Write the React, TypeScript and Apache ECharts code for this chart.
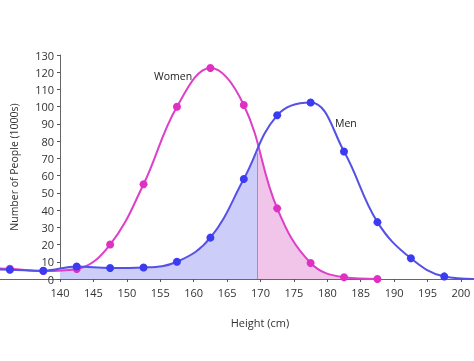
import React, { useEffect, useRef } from "react";
import * as echarts from "echarts";

const heights = [127.5, 132.5, 137.5, 142.5, 147.5, 152.5, 157.5, 162.5, 167.5, 172.5, 177.5, 182.5, 187.5, 192.5, 197.5, 202.5];
const menValues = [5.6, 5.4, 4.8, 7.3, 6.4, 6.7, 10, 24, 58, 95, 102.4, 74, 33, 12, 1.5, 0];
const womenValues = [6.2, 5.9, 4.6, 5.8, 20, 55, 100, 122.5, 101, 41, 9.3, 1, 0, null, null, null];
const xTicks = [140, 145, 150, 155, 160, 165, 170, 175, 180, 185, 190, 195, 200];
const crossHeight = 169.55;
const crossValue = 73;

const MAGENTA = "#dd3fc9";
const MAGENTA_DOT = "#e030c4";
const BLUE = "#5550e6";
const BLUE_DOT = "#3b3bf2";
const FONT = "'Open Sans', 'DejaVu Sans', sans-serif";

export default function App() {
  const ref = useRef<HTMLDivElement>(null);
  useEffect(() => {
    document.body.style.margin = "0";
    const chart = echarts.init(ref.current!, null, { renderer: "svg" });
    const men = heights.map((h, i) => [h, menValues[i]]);
    const women = heights.map((h, i) => [h, womenValues[i]]).filter((d) => d[1] !== null);
    chart.setOption({
      animation: false,
      grid: { left: 0, right: 0, top: 55, bottom: 82 },
      xAxis: {
        type: "value",
        min: 131.02,
        max: 201.95,
        axisLine: { show: true, lineStyle: { color: "#666", width: 1 } },
        axisTick: { show: true, customValues: xTicks, length: 3, lineStyle: { color: "#555" } },
        axisLabel: { customValues: xTicks, color: "#333", fontSize: 11, fontFamily: FONT, margin: 8 },
        splitLine: { show: false },
      },
      yAxis: {
        type: "value",
        min: 0,
        max: 130,
        interval: 10,
        offset: -60,
        axisLine: { show: true, lineStyle: { color: "#666", width: 1 } },
        axisTick: { show: true, length: 3, lineStyle: { color: "#555" } },
        axisLabel: { color: "#333", fontSize: 11, fontFamily: FONT, margin: 6 },
        splitLine: { show: false },
      },
      visualMap: [
        {
          type: "piecewise",
          show: false,
          seriesIndex: 0,
          dimension: 0,
          pieces: [{ gte: 140, lte: crossHeight, color: "#cdcdfa" }],
          outOfRange: { color: "rgba(255,255,255,0)" },
        },
        {
          type: "piecewise",
          show: false,
          seriesIndex: 1,
          dimension: 0,
          pieces: [{ gte: crossHeight, lte: 200, color: "#f1c5ea" }],
          outOfRange: { color: "rgba(255,255,255,0)" },
        },
      ],
      series: [
        {
          type: "line",
          data: men,
          smooth: 0.4,
          showSymbol: false,
          lineStyle: { width: 0, opacity: 0 },
          areaStyle: { opacity: 1 },
          z: 1,
          silent: true,
          markLine: {
            silent: true,
            symbol: "none",
            label: { show: false },
            lineStyle: { color: "#999", width: 1, type: "solid" },
            data: [[{ coord: [crossHeight, 0] }, { coord: [crossHeight, crossValue] }]],
          },
        },
        {
          type: "line",
          data: women,
          smooth: 0.4,
          showSymbol: false,
          lineStyle: { width: 0, opacity: 0 },
          areaStyle: { opacity: 1 },
          z: 1,
          silent: true,
        },
        {
          type: "line",
          data: women,
          smooth: 0.4,
          symbol: "circle",
          symbolSize: 8,
          lineStyle: { color: MAGENTA, width: 2 },
          itemStyle: { color: MAGENTA_DOT },
          z: 3,
        },
        {
          type: "line",
          data: men,
          smooth: 0.4,
          symbol: "circle",
          symbolSize: 8,
          lineStyle: { color: BLUE, width: 2 },
          itemStyle: { color: BLUE_DOT },
          z: 4,
        },
      ],
      graphic: [
        { type: "text", x: 154, y: 76, style: { text: "Women", font: `10.5px ${FONT}`, fill: "#222", verticalAlign: "middle" } },
        { type: "text", x: 335, y: 123, style: { text: "Men", font: `10.5px ${FONT}`, fill: "#222", verticalAlign: "middle" } },
        { type: "text", x: 192, y: 261, style: { text: "Men with", font: `7.5px ${FONT}`, fill: "#333", verticalAlign: "middle" } },
        { type: "text", x: 192, y: 271, style: { text: "\u201CFemale\u201D Height", font: `7.5px ${FONT}`, fill: "#333", verticalAlign: "middle" } },
        { type: "text", x: 260, y: 261, style: { text: "Women with", font: `7.5px ${FONT}`, fill: "#333", verticalAlign: "middle" } },
        { type: "text", x: 260, y: 271, style: { text: "\u201CMale\u201D Height", font: `7.5px ${FONT}`, fill: "#333", verticalAlign: "middle" } },
        { type: "text", x: 260, y: 322, style: { text: "Height (cm)", font: `11px ${FONT}`, fill: "#333", align: "center", verticalAlign: "middle" } },
        {
          type: "text",
          x: 14,
          y: 167,
          rotation: Math.PI / 2,
          style: { text: "Number of People (1000s)", font: `10.5px ${FONT}`, fill: "#333", align: "center", verticalAlign: "middle" },
        },
      ],
    });
    return () => chart.dispose();
  }, []);
  return <div ref={ref} style={{ position: "fixed", left: 0, top: 0, width: 474, height: 361 }} />;
}
